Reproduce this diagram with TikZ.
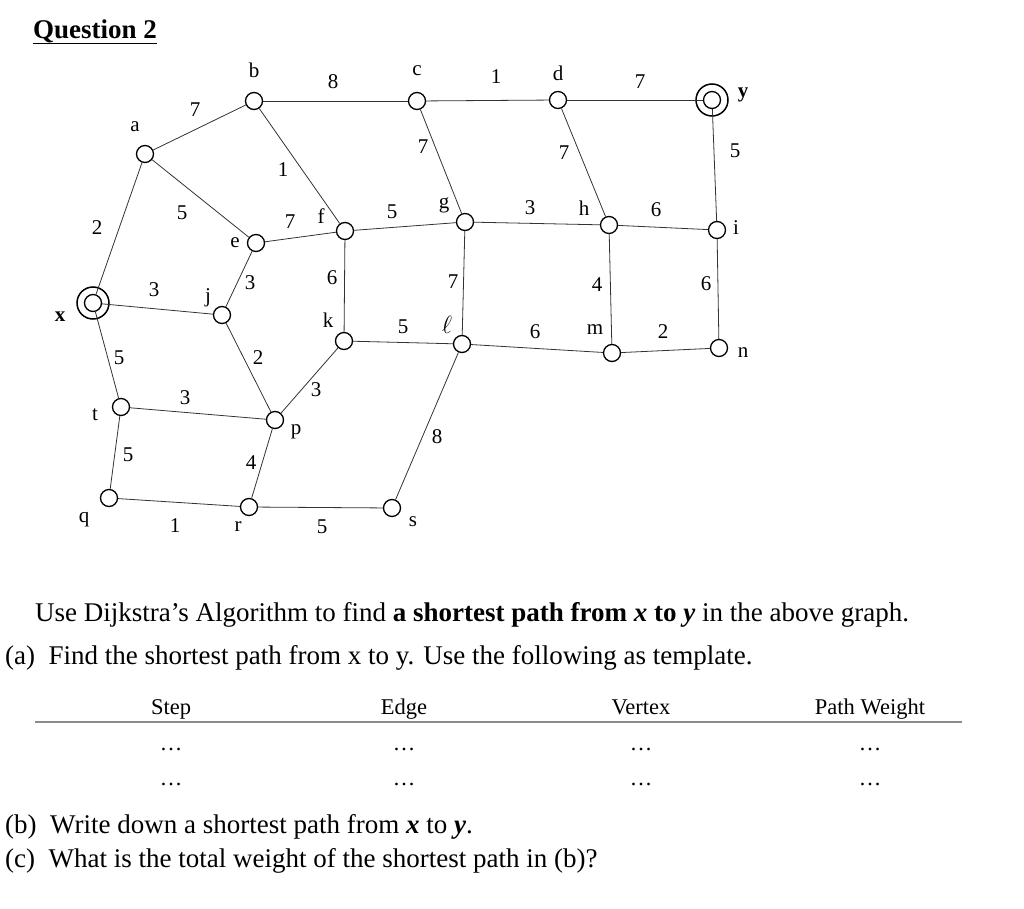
\documentclass[tikz,border=0pt]{standalone}
\usepackage{fontspec}
\setmainfont{Liberation Serif}
\usetikzlibrary{positioning}

\begin{document}
\begin{tikzpicture}[
        x=1pt, y=-1pt,
        vtx/.style={draw, circle, line width=1.3pt, minimum size=17pt, inner sep=0pt, fill=white},
        ring/.style={draw, circle, line width=1.5pt, minimum size=32pt, inner sep=0pt},
        lbl/.style={inner sep=0pt, font=\fontsize{21}{24}\selectfont},
        wt/.style={inner sep=0pt, font=\fontsize{21}{24}\selectfont},
        txt/.style={inner sep=0pt, anchor=base west, font=\fontsize{27}{31}\selectfont},
        hd/.style={inner sep=0pt, anchor=base, font=\fontsize{22.5}{26}\selectfont},
        edge/.style={line width=0.8pt, black!80}
    ]
        \useasboundingbox (0,0) rectangle (1024,909);

        % title
        \node[inner sep=0pt, anchor=base west, font=\fontsize{27}{32}\selectfont\bfseries] (title) at (33,39) {Question 2};
        \draw[line width=1.7pt] ([yshift=-4.5pt]title.base west) -- ([yshift=-4.5pt]title.base east);

        % vertices
        \foreach \n/\px/\py in {x/93/303, a/145/154, b/254/101, c/417/101, d/558/100, y/712/100,
                e/256/243, f/345/231, g/465/222, h/609/225, i/717/230, j/222/315, k/344/341,
                l/462/344, m/612/353, n/719/348, t/121/407, p/275/420, q/109/498, r/249/507, s/392/508}
            \node[vtx] (\n) at (\px,\py) {};
        \node[ring] (xring) at (x) {};
        \node[ring] (yring) at (y) {};

        % vertex names
        \foreach \n/\t/\px/\py in {x/\textbf{x}/60/317, a/a/135/127, b/b/254/70, c/c/417/71, d/d/558/73,
                y/\textbf{y}/743/95, e/e/235/243, f/f/321/216, g/g/444/205, h/h/584/208, i/i/736/228,
                j/j/208/298, k/k/328/320, l/{\fontsize{24}{26}\selectfont$\ell$}/447/325, m/m/595/330,
                n/n/743/353, t/t/95/415, p/p/296/432, q/q/84/520, r/r/238/527, s/s/413/522}
            \node[lbl] (\n-name) at (\px,\py) {\t};

        % edges with weights
        \foreach \u/\v/\w/\px/\py in {x/a/2/97/228, a/b/7/195/110, a/e/5/182/213, b/f/1/283/170,
                b/c/8/333/82, c/d/1/496/77, d/y/7/640/82, c/g/7/423/147, d/h/7/564/153,
                y/i/5/735/151, e/f/7/290/222, f/g/5/392/212, g/h/3/530/208, h/i/6/656/210,
                e/j/3/250/283, f/k/6/332/278, g/l/7/453/282, h/m/4/597/285, i/n/6/706/284,
                x/j/3/154/290, k/l/5/403/327, l/m/6/535/332, m/n/2/663/332, x/t/5/119/358,
                j/p/2/258/358, p/k/3/316/390, t/p/3/185/398, l/s/8/437/437, t/q/5/128/455,
                p/r/4/251/463, q/r/1/175/526, r/s/5/322/527}
        {
            \draw[edge] (\u) -- (\v);
            \node[wt] (w-\u\v) at (\px,\py) {\w};
        }

        % question text
        \node[txt] (intro) at (35,621) {Use Dijkstra’s Algorithm to find \textbf{a shortest path from \textit{x} to \textit{y}} in the above graph.};
        \node[txt] (parta) at (5,664) {(a)\ \ Find the shortest path from x to y. Use the following as template.};

        % template table
        \foreach \c/\t/\cx in {step/Step/171, edge/Edge/404, vert/Vertex/641, wgt/Path Weight/870}
        {
            \node[hd] (h-\c) at (\cx,714) {\t};
            \node[hd] (r1-\c) at (\cx,750) {\dots};
            \node[hd] (r2-\c) at (\cx,785) {\dots};
        }
        \draw[line width=2pt, black!45] (35,722) -- (962,722);

        \node[txt] (partb) at (5,833) {(b)\ \ Write down a shortest path from \textbf{\textit{x}} to \textbf{\textit{y}}.};
        \node[txt] (partc) at (5,867) {(c)\ \ What is the total weight of the shortest path in (b)?};
\end{tikzpicture}
\end{document}
